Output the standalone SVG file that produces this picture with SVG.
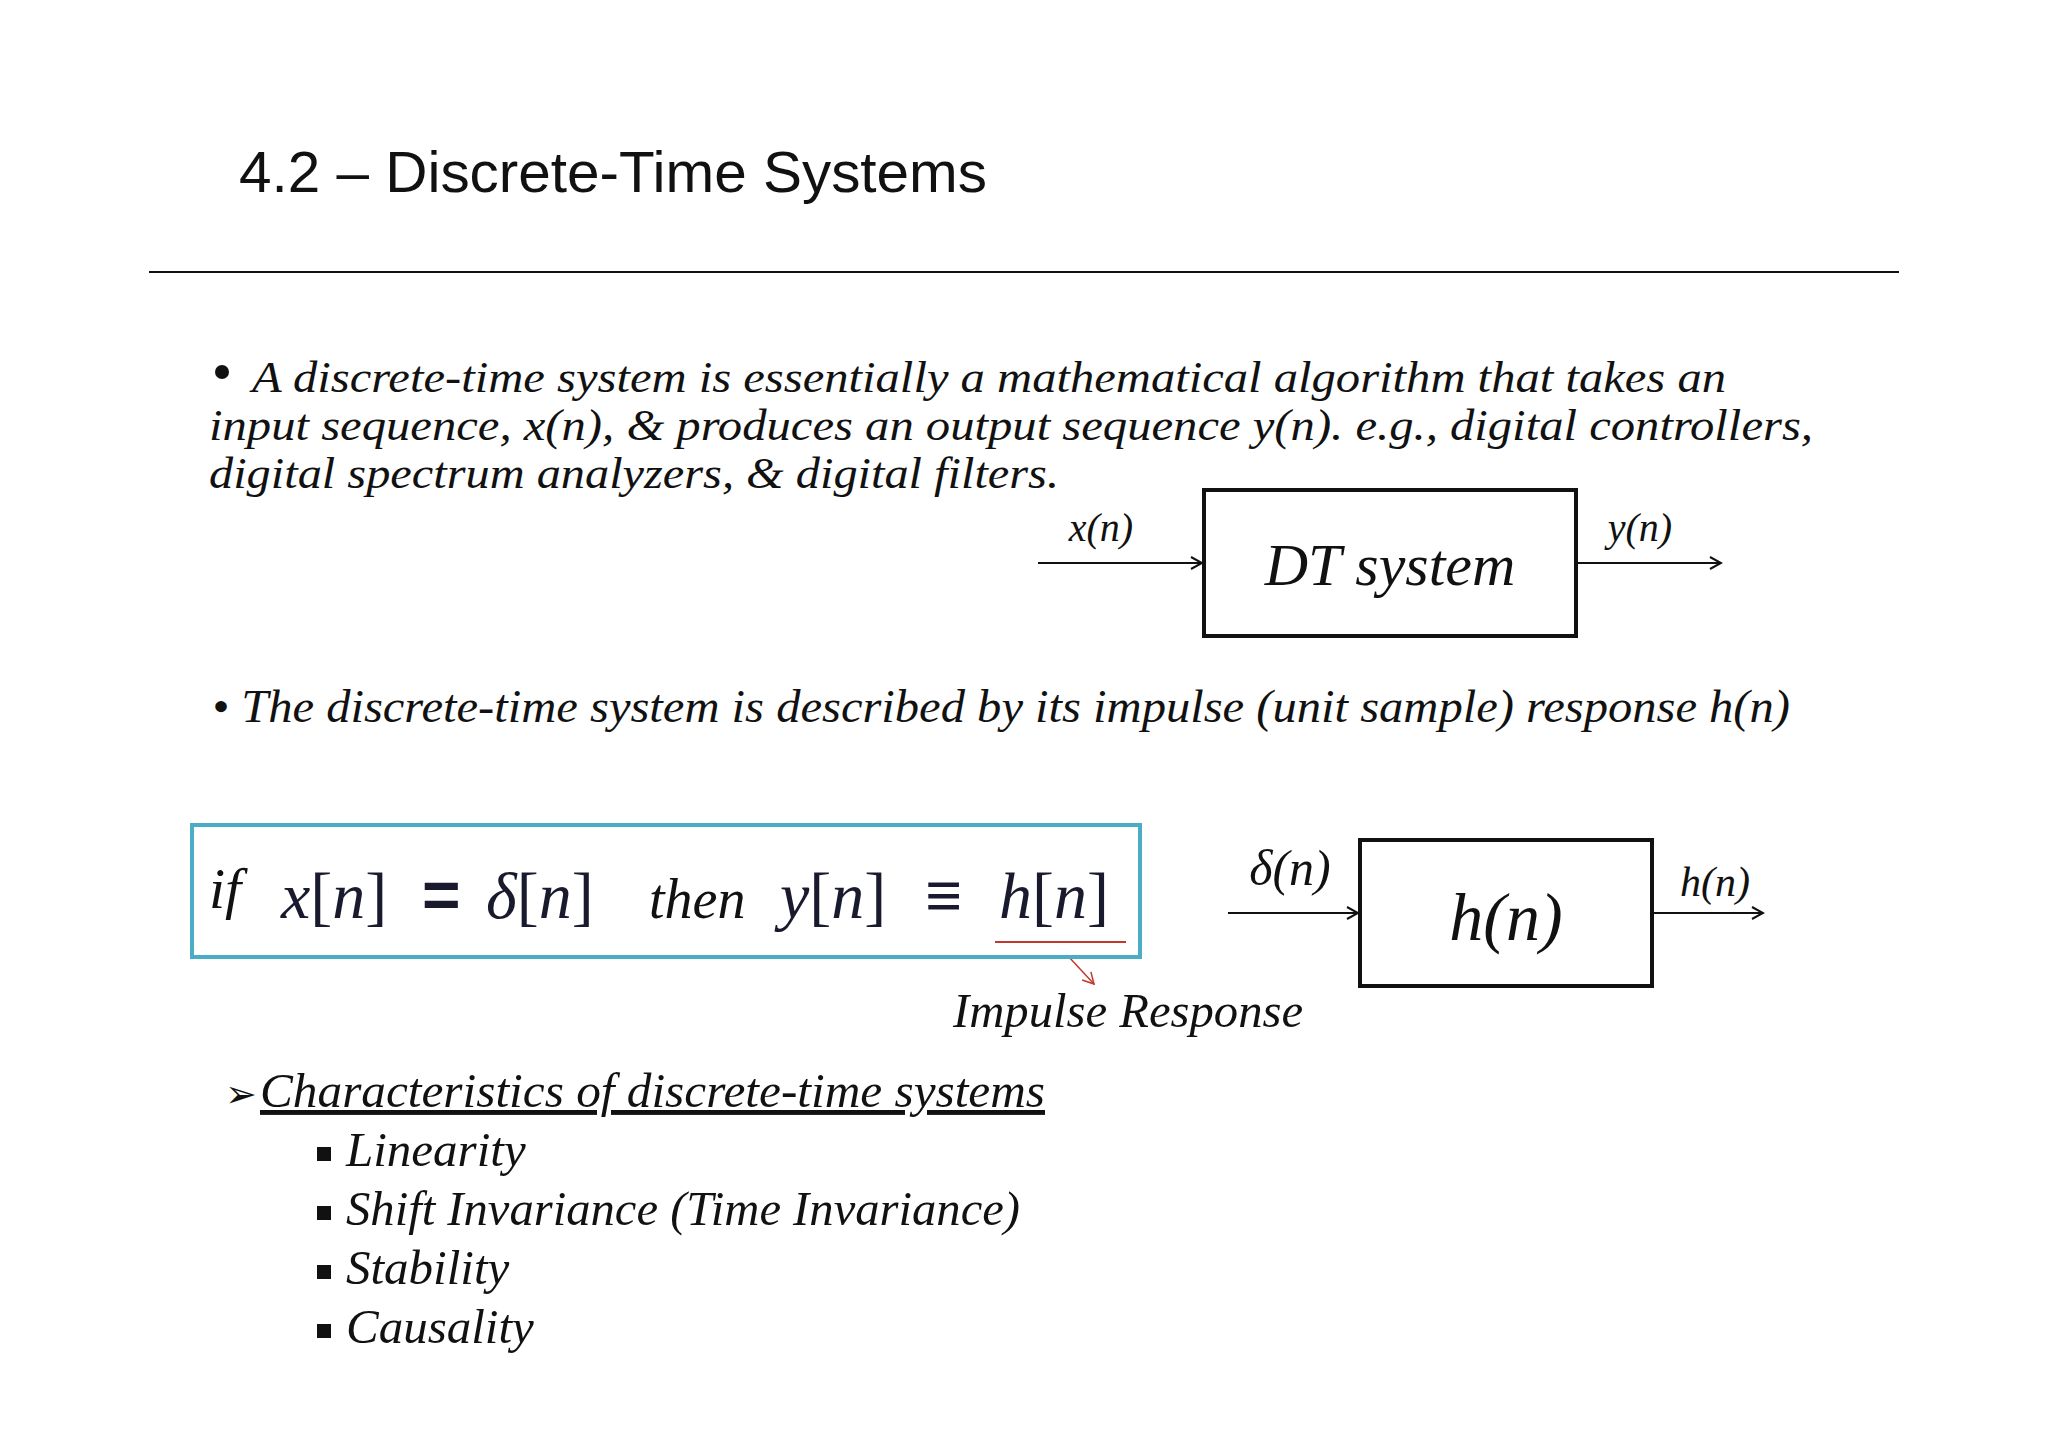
<svg xmlns="http://www.w3.org/2000/svg" width="2048" height="1448" viewBox="0 0 2048 1448">
<style>
.t{font-family:"Liberation Serif",serif;font-style:italic;fill:#111}
.m{font-family:"Liberation Serif",serif;fill:#1a1a2e}
.b{fill:#fff;stroke:#111;stroke-width:4}
.c{stroke:#111;stroke-width:2;fill:none}
</style>
<defs>
<marker id="a" markerWidth="14" markerHeight="14" refX="12" refY="7" orient="auto" markerUnits="userSpaceOnUse"><path d="M1,1 L12,7 L1,13" fill="none" stroke="#111" stroke-width="2"/></marker>
<marker id="r" markerWidth="14" markerHeight="14" refX="12" refY="7" orient="auto" markerUnits="userSpaceOnUse"><path d="M1,1 L12,7 L1,13" fill="none" stroke="#c0392b" stroke-width="1.5"/></marker>
</defs>
<rect width="2048" height="1448" fill="#fff"/>
<text x="239" y="192" font-family="Liberation Sans,Arial,sans-serif" font-size="57" fill="#111" textLength="748" lengthAdjust="spacingAndGlyphs">4.2 – Discrete-Time Systems</text>
<line x1="149" y1="272" x2="1899" y2="272" stroke="#111" stroke-width="2"/>
<g id="text1" class="t" font-size="44">
<circle cx="222" cy="372" r="7" fill="#111"/>
<text x="252" y="392" textLength="1474" lengthAdjust="spacingAndGlyphs">A discrete-time system is essentially a mathematical algorithm that takes an</text>
<text x="209" y="440" textLength="1604" lengthAdjust="spacingAndGlyphs">input sequence, x(n), &amp; produces an output sequence y(n). e.g., digital controllers,</text>
<text x="209" y="488" textLength="850" lengthAdjust="spacingAndGlyphs">digital spectrum analyzers, &amp; digital filters.</text>
</g>
<g id="dt">
<rect class="b" x="1204" y="490" width="372" height="146"/>
<text class="t" x="1390" y="585" font-size="60" text-anchor="middle">DT system</text>
</g>
<g class="t" font-size="40">
<text x="1101" y="541" text-anchor="middle">x(n)</text>
<text x="1640" y="541" text-anchor="middle">y(n)</text>
</g>
<g id="connectors">
<line class="c" x1="1038" y1="563" x2="1202" y2="563" marker-end="url(#a)"/>
<line class="c" x1="1576" y1="563" x2="1721" y2="563" marker-end="url(#a)"/>
<line class="c" x1="1228" y1="913" x2="1358" y2="913" marker-end="url(#a)"/>
<line class="c" x1="1652" y1="913" x2="1763" y2="913" marker-end="url(#a)"/>
<line x1="1055" y1="942" x2="1094" y2="984" stroke="#c0392b" stroke-width="1.5" marker-end="url(#r)"/>
</g>
<text class="t" font-size="47" x="212" y="722" textLength="1578" lengthAdjust="spacingAndGlyphs">• The discrete-time system is described by its impulse (unit sample) response h(n)</text>
<g id="formula">
<rect x="192" y="825" width="948" height="132" fill="#fff" stroke="#4bacc6" stroke-width="4"/>
<text class="t" x="209" y="908" font-size="58">if</text>
<g class="m" font-size="66">
<text x="281" y="918"><tspan font-style="italic">x</tspan>[<tspan font-style="italic">n</tspan>]</text>
<text x="422" y="918" font-family="Liberation Sans,sans-serif" font-weight="bold">=</text>
<text x="486" y="918"><tspan font-style="italic">δ</tspan>[<tspan font-style="italic">n</tspan>]</text>
<text x="780" y="918"><tspan font-style="italic">y</tspan>[<tspan font-style="italic">n</tspan>]</text>
<text x="925" y="918" font-weight="bold">≡</text>
<text x="999" y="918"><tspan font-style="italic">h</tspan>[<tspan font-style="italic">n</tspan>]</text>
</g>
<text class="t" x="649" y="918" font-size="56">then</text>
<line x1="995" y1="942" x2="1126" y2="942" stroke="#c0392b" stroke-width="2"/>
</g>
<text class="t" x="953" y="1027" font-size="48" textLength="350" lengthAdjust="spacingAndGlyphs">Impulse Response</text>
<g id="h">
<rect class="b" x="1360" y="840" width="292" height="146"/>
<text class="t" x="1506" y="940" font-size="68" text-anchor="middle">h(n)</text>
</g>
<text class="t" x="1290" y="885" font-size="50" text-anchor="middle">δ(n)</text>
<text class="t" x="1715" y="896" font-size="42" text-anchor="middle">h(n)</text>
<g id="list" class="t" font-size="49">
<text x="225" y="1107" font-style="normal" font-size="38">➢</text>
<text x="260" y="1107" text-decoration="underline" textLength="785" lengthAdjust="spacingAndGlyphs">Characteristics of discrete-time systems</text>
<rect x="317" y="1147" width="14" height="14" fill="#111"/>
<text x="346" y="1166">Linearity</text>
<rect x="317" y="1206" width="14" height="14" fill="#111"/>
<text x="346" y="1225" textLength="674" lengthAdjust="spacingAndGlyphs">Shift Invariance (Time Invariance)</text>
<rect x="317" y="1265" width="14" height="14" fill="#111"/>
<text x="346" y="1284">Stability</text>
<rect x="317" y="1324" width="14" height="14" fill="#111"/>
<text x="346" y="1343">Causality</text>
</g>
</svg>
